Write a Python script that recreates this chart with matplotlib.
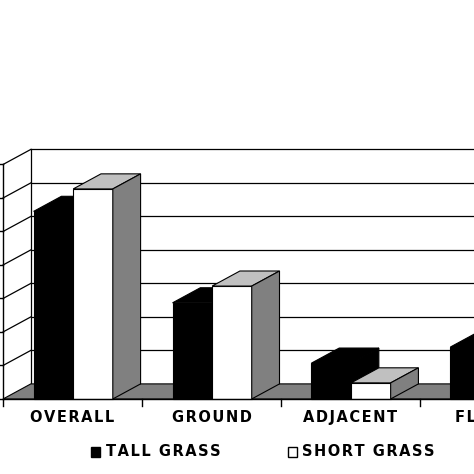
import matplotlib
matplotlib.use("Agg")
import matplotlib.pyplot as plt
from matplotlib.patches import Polygon

categories = ["OVERALL", "GROUND", "ADJACENT", "FL"]
tall = [5.6, 2.87, 1.07, 1.55]
short = [6.27, 3.37, 0.48, None]
series_names = ["TALL GRASS", "SHORT GRASS"]

DX, DY = 0.2, 0.45
BW = 0.285
START = 0.22
fig = plt.figure(figsize=(4.74, 4.74), dpi=100)
ax = fig.add_axes([0, 0, 1, 1])
ax.set_xlim(-0.022, 3.39)
ax.set_ylim(-2.24, 11.91)
ax.axis("off")
X0 = 0

def spaced(s):
    return "\u200a".join(s)

def poly(pts, fc, z):
    ax.add_patch(Polygon(pts, closed=True, fc=fc, ec="black", lw=0.8, zorder=z))

poly([(X0, 0), (4, 0), (4 + DX, DY), (X0 + DX, DY)], "#808080", 1)
for k in range(1, 8):
    ax.plot([X0 + DX, 4], [k + DY, k + DY], color="black", lw=0.9, zorder=0.5)
    ax.plot([X0, X0 + DX], [k, k + DY], color="black", lw=0.9, zorder=0.5)
ax.plot([X0 + DX, X0 + DX], [DY, 7 + DY], color="black", lw=0.9, zorder=0.5)
ax.plot([X0, X0], [0, 7], color="black", lw=1, zorder=5)
for k in range(0, 8):
    ax.plot([X0 - 0.02, X0], [k, k], color="black", lw=1, zorder=5)
ax.plot([X0, 4], [0, 0], color="black", lw=1, zorder=5)
for i in range(len(categories)):
    ax.plot([i, i], [0, -0.2], color="black", lw=1, zorder=5)

def bar(x, h, front, top, side, z):
    poly([(x, 0), (x + BW, 0), (x + BW, h), (x, h)], front, z)
    poly([(x, h), (x + BW, h), (x + BW + DX, h + DY), (x + DX, h + DY)], top, z)
    poly([(x + BW, 0), (x + BW + DX, DY), (x + BW + DX, h + DY), (x + BW, h)], side, z)

for i, (t, s) in enumerate(zip(tall, short)):
    bar(i + START, t, "black", "black", "black", 2 + i)
    if s is not None:
        bar(i + START + BW, s, "white", "#c0c0c0", "#808080", 2.5 + i)

for i, c in enumerate(categories):
    if i == len(categories) - 1:
        ax.text(i + 0.25, -0.55, spaced(c), ha="left", va="center", fontsize=10.5,
                fontweight="bold", zorder=10)
    else:
        ax.text(i + 0.5, -0.55, spaced(c), ha="center", va="center", fontsize=10.5,
                fontweight="bold", zorder=10)

ax.add_patch(plt.Rectangle((0.635, -1.74), 0.065, 0.3, fc="black", ec="black", zorder=10))
ax.text(0.74, -1.58, spaced(series_names[0]), ha="left", va="center", fontsize=10.5, fontweight="bold")
ax.add_patch(plt.Rectangle((2.05, -1.74), 0.065, 0.3, fc="white", ec="black", lw=1, zorder=10))
ax.text(2.15, -1.58, spaced(series_names[1]), ha="left", va="center", fontsize=10.5, fontweight="bold")

fig.savefig("out.png", dpi=100, facecolor="white")
